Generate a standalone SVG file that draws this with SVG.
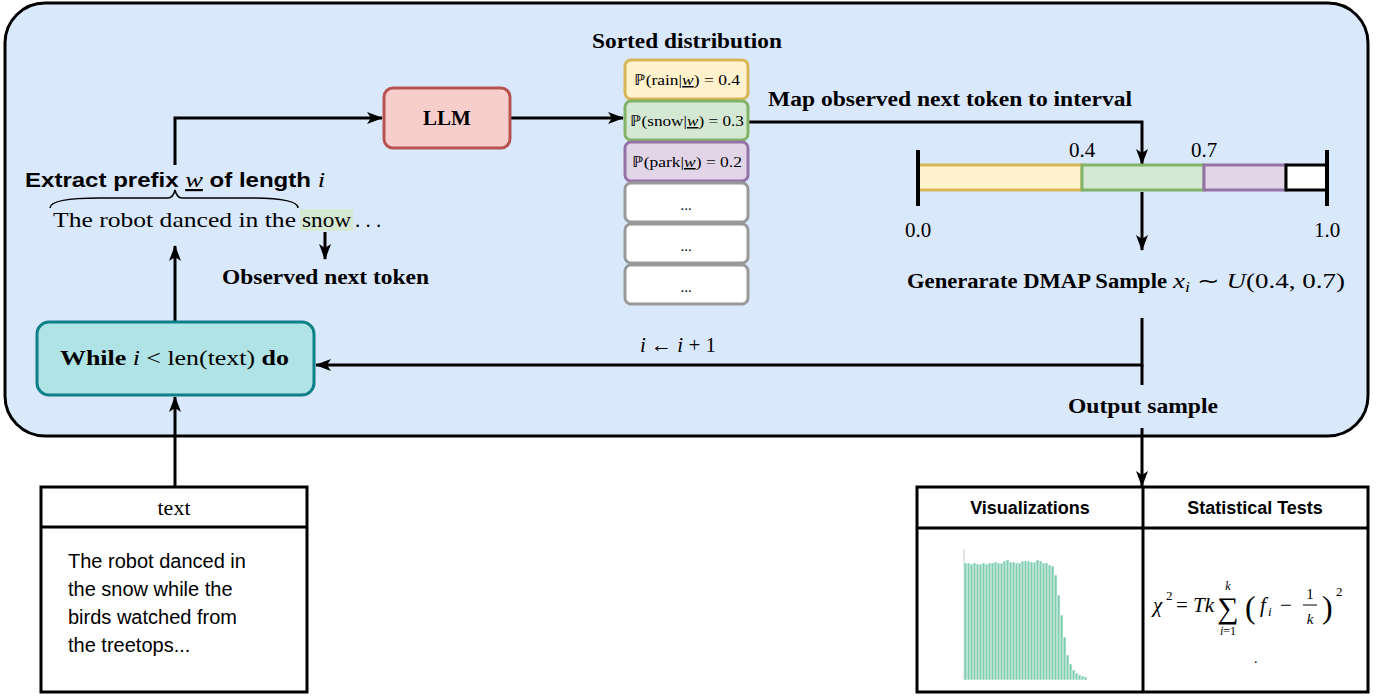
<svg xmlns="http://www.w3.org/2000/svg" width="1376" height="700" viewBox="0 0 1376 700">
<defs>
<marker id="ah" viewBox="0 0 16 12" refX="15" refY="6" markerWidth="16" markerHeight="12" orient="auto" markerUnits="userSpaceOnUse"><path d="M0,0 L16,6 L0,12 L4,6 Z" fill="#000"/></marker>
<style>
.s{font-family:"Liberation Serif",serif;fill:#000}
.b{font-weight:bold}
.a{font-family:"Liberation Sans",sans-serif;fill:#000}
.c{fill:none;stroke:#000;stroke-width:3}
</style>
</defs>
<rect width="1376" height="700" fill="#fff"/>
<rect x="5" y="3" width="1363" height="433" rx="40" fill="#dae8fc" stroke="#000" stroke-width="3"/>
<g id="connectors" class="c">
<polyline points="175,165 175,118 382,118" marker-end="url(#ah)"/>
<line x1="510" y1="118" x2="623" y2="118" marker-end="url(#ah)"/>
<polyline points="748,122 1142,122 1142,164" marker-end="url(#ah)"/>
<line x1="1142" y1="192" x2="1142" y2="250" marker-end="url(#ah)"/>
<polyline points="1142,318 1142,365 316,365" marker-end="url(#ah)"/>
<line x1="1142" y1="365" x2="1142" y2="385"/>
<line x1="1142" y1="428" x2="1142" y2="486" marker-end="url(#ah)"/>
<line x1="175" y1="322" x2="175" y2="246" marker-end="url(#ah)"/>
<line x1="175" y1="487" x2="175" y2="397" marker-end="url(#ah)"/>
<line x1="325" y1="232" x2="325" y2="259" marker-end="url(#ah)"/>
</g>
<g id="prefix">
<text x="25" y="187" class="a b" font-size="20" textLength="300" lengthAdjust="spacingAndGlyphs">Extract prefix <tspan class="s" font-style="italic" font-weight="normal" font-size="22" text-decoration="underline">w</tspan> of length <tspan class="s" font-style="italic" font-weight="normal" font-size="22">i</tspan></text>
<path d="M50,208 Q50,198 100,198 L168,198 Q173,198 175,190 Q177,198 182,198 L250,198 Q298,198 298,208" fill="none" stroke="#000" stroke-width="1.5"/>
<rect x="300" y="209" width="53" height="22" fill="#d5e8d4"/>
<text x="53" y="227" class="s" font-size="21" textLength="243" lengthAdjust="spacingAndGlyphs">The robot danced in the</text>
<text x="302" y="227" class="s" font-size="21" fill="#9cc59a" textLength="49" lengthAdjust="spacingAndGlyphs">snow</text>
<text x="355" y="227" class="s" font-size="21">. . .</text>
<text x="222" y="284" class="s b" font-size="20" textLength="207" lengthAdjust="spacingAndGlyphs">Observed next token</text>
</g>
<g id="llm"><rect x="384" y="88" width="126" height="60" rx="9" fill="#f8cecc" stroke="#b85450" stroke-width="3"/><text x="447" y="125" text-anchor="middle" class="s b" font-size="21">LLM</text></g>
<g id="dist">
<text x="592" y="48" class="s b" font-size="20" textLength="190" lengthAdjust="spacingAndGlyphs">Sorted distribution</text>
<rect x="625" y="60" width="123" height="39" rx="6" fill="#fff2cc" stroke="#d6b656" stroke-width="3"/>
<rect x="625" y="101" width="123" height="39" rx="6" fill="#d5e8d4" stroke="#82b366" stroke-width="3"/>
<rect x="625" y="142" width="123" height="39" rx="6" fill="#e1d5e7" stroke="#9673a6" stroke-width="3"/>
<rect x="625" y="183" width="123" height="39" rx="6" fill="#fff" stroke="#999" stroke-width="3"/>
<rect x="625" y="224" width="123" height="39" rx="6" fill="#fff" stroke="#999" stroke-width="3"/>
<rect x="625" y="265" width="123" height="39" rx="6" fill="#fff" stroke="#999" stroke-width="3"/>
<text x="634" y="85" class="s" font-size="15" textLength="106" lengthAdjust="spacingAndGlyphs">ℙ(rain|<tspan font-style="italic" text-decoration="underline">w</tspan>) = 0.4</text>
<text x="630" y="126" class="s" font-size="15" textLength="114" lengthAdjust="spacingAndGlyphs">ℙ(snow|<tspan font-style="italic" text-decoration="underline">w</tspan>) = 0.3</text>
<text x="632" y="167" class="s" font-size="15" textLength="110" lengthAdjust="spacingAndGlyphs">ℙ(park|<tspan font-style="italic" text-decoration="underline">w</tspan>) = 0.2</text>
<text x="686" y="210" text-anchor="middle" class="s" font-size="15">...</text>
<text x="686" y="251" text-anchor="middle" class="s" font-size="15">...</text>
<text x="686" y="292" text-anchor="middle" class="s" font-size="15">...</text>
</g>
<g id="interval">
<text x="768" y="106" class="s b" font-size="20" textLength="364" lengthAdjust="spacingAndGlyphs">Map observed next token to interval</text>
<rect x="918" y="165" width="164" height="25" fill="#fff2cc" stroke="#d6b656" stroke-width="3"/>
<rect x="1082" y="165" width="122" height="25" fill="#d5e8d4" stroke="#82b366" stroke-width="3"/>
<rect x="1204" y="165" width="82" height="25" fill="#e1d5e7" stroke="#9673a6" stroke-width="3"/>
<rect x="1286" y="165" width="41" height="25" fill="#fff" stroke="#000" stroke-width="3"/>
<line x1="918" y1="150" x2="918" y2="206" stroke="#000" stroke-width="4"/>
<line x1="1327" y1="150" x2="1327" y2="206" stroke="#000" stroke-width="4"/>
<text x="1082" y="157" text-anchor="middle" class="s" font-size="21">0.4</text>
<text x="1204" y="157" text-anchor="middle" class="s" font-size="21">0.7</text>
<text x="918" y="237" text-anchor="middle" class="s" font-size="21">0.0</text>
<text x="1327" y="237" text-anchor="middle" class="s" font-size="21">1.0</text>
<text x="907" y="288" class="s b" font-size="20" textLength="260" lengthAdjust="spacingAndGlyphs">Generarate DMAP Sample</text>
<text x="1173" y="288" class="s" font-size="21" textLength="172" lengthAdjust="spacingAndGlyphs"><tspan font-style="italic">x</tspan><tspan font-style="italic" font-size="14" dy="4">i</tspan><tspan dy="-4"> ∼ <tspan font-style="italic">U</tspan>(0.4, 0.7)</tspan></text>
<text x="640" y="352" class="s" font-size="21"><tspan font-style="italic">i</tspan> ← <tspan font-style="italic">i</tspan> + 1</text>
<text x="1068" y="413" class="s b" font-size="20" textLength="150" lengthAdjust="spacingAndGlyphs">Output sample</text>
</g>
<g id="while"><rect x="37" y="322" width="277" height="73" rx="12" fill="#b0e3e6" stroke="#0e8088" stroke-width="3"/><text x="60" y="365" class="s" font-size="21" textLength="229" lengthAdjust="spacingAndGlyphs"><tspan font-weight="bold">While</tspan> <tspan font-style="italic">i</tspan> &lt; len(text) <tspan font-weight="bold">do</tspan></text></g>
<g id="textbox">
<rect x="41" y="487" width="266" height="205" fill="#fff" stroke="#000" stroke-width="3"/>
<line x1="41" y1="527" x2="307" y2="527" stroke="#000" stroke-width="3"/>
<text x="174" y="515" text-anchor="middle" class="s" font-size="22">text</text>
<text class="a" font-size="20"><tspan x="68" y="568">The robot danced in</tspan><tspan x="68" y="596">the snow while the</tspan><tspan x="68" y="624">birds watched from</tspan><tspan x="68" y="652">the treetops...</tspan></text>
</g>
<g id="table">
<rect x="917" y="487" width="451" height="205" fill="#fff" stroke="#000" stroke-width="3"/>
<line x1="917" y1="528" x2="1368" y2="528" stroke="#000" stroke-width="3"/>
<line x1="1143" y1="487" x2="1143" y2="692" stroke="#000" stroke-width="3"/>
<text x="1030" y="514" text-anchor="middle" class="a b" font-size="18">Visualizations</text>
<text x="1255" y="514" text-anchor="middle" class="a b" font-size="18">Statistical Tests</text>
<line x1="964" y1="549" x2="964" y2="680" stroke="#ccc" stroke-width="1"/>
<path fill="#7fcdb0" stroke="#fff" stroke-width="0.5" d="M964,563h3v117h-3z M967,563h3v117h-3z M970,564h3v116h-3z M973,563h3v117h-3z M976,564h3v116h-3z M979,564h3v116h-3z M982,563h3v117h-3z M985,564h3v116h-3z M988,563h3v117h-3z M991,563h3v117h-3z M994,562h3v118h-3z M997,563h3v117h-3z M1000,563h3v117h-3z M1003,561h3v119h-3z M1006,560h3v120h-3z M1009,562h3v118h-3z M1012,562h3v118h-3z M1015,563h3v117h-3z M1018,563h3v117h-3z M1021,561h3v119h-3z M1024,561h3v119h-3z M1027,561h3v119h-3z M1030,562h3v118h-3z M1033,562h3v118h-3z M1036,560h3v120h-3z M1039,561h3v119h-3z M1042,563h3v117h-3z M1045,563h3v117h-3z M1048,565h3v115h-3z M1051,566h3v114h-3z M1054,575h3v105h-3z M1057,595h3v85h-3z M1060,615h3v65h-3z M1063,637h3v43h-3z M1066,655h3v25h-3z M1069,664h3v16h-3z M1072,670h3v10h-3z M1075,673h3v7h-3z M1078,675h3v5h-3z M1081,676h3v4h-3z M1084,677h3v3h-3z"/>
<text x="1153" y="612" class="s" font-size="21" font-style="italic">χ</text>
<text x="1166" y="600" class="s" font-size="13">2</text>
<text x="1176" y="612" class="s" font-size="21">= <tspan font-style="italic">Tk</tspan></text>
<text x="1228" y="618" class="s" font-size="30" text-anchor="middle">∑</text>
<text x="1228" y="590" class="s" font-size="12" font-style="italic" text-anchor="middle">k</text>
<text x="1228" y="635" class="s" font-size="12" text-anchor="middle"><tspan font-style="italic">i</tspan>=1</text>
<text x="1245" y="618" class="s" font-size="32">(</text>
<text x="1260" y="612" class="s" font-size="21" font-style="italic">f</text>
<text x="1268" y="616" class="s" font-size="13" font-style="italic">i</text>
<text x="1280" y="612" class="s" font-size="21">−</text>
<text x="1310" y="599" class="s" font-size="15" text-anchor="middle">1</text>
<line x1="1303" y1="605" x2="1317" y2="605" stroke="#000" stroke-width="1"/>
<text x="1310" y="624" class="s" font-size="15" font-style="italic" text-anchor="middle">k</text>
<text x="1322" y="618" class="s" font-size="32">)</text>
<text x="1336" y="596" class="s" font-size="13">2</text>
<text x="1254" y="663" class="s" font-size="14">.</text>
</g>
</svg>
